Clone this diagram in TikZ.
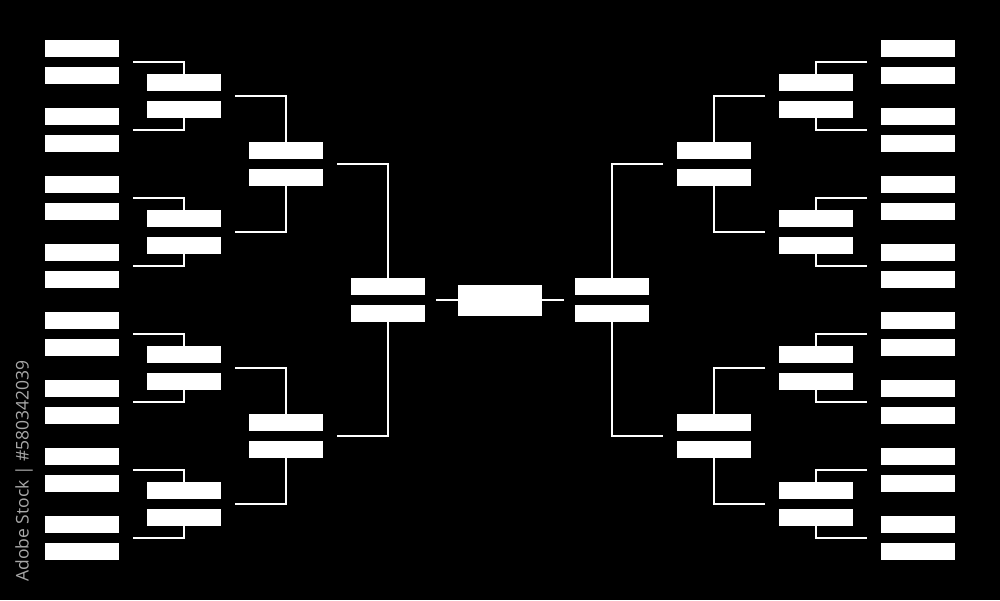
\documentclass[tikz,border=0pt]{standalone}
\usepackage{fontspec}
\newfontfamily\wmfont{Open Sans}
\definecolor{wmgray}{HTML}{A8A8A8}
\begin{document}
\begin{tikzpicture}[x=1pt,y=-1pt,
  bar/.style={fill=white,draw=none,minimum width=74pt,minimum height=17pt,inner sep=0pt},
  finalbox/.style={fill=white,draw=none,minimum width=84pt,minimum height=31pt,inner sep=0pt},
  link/.style={draw=white,line width=1.8pt},
  wmtext/.style={rotate=90,text=wmgray,inner sep=0pt,font=\wmfont\fontsize{17.5}{21}\selectfont}]
\fill[black] (0,0) rectangle (1000,600);
\useasboundingbox (0,0) rectangle (1000,600);
% bars
\foreach \k/\num in {0/8,1/4,2/2,3/1} {
  \pgfmathtruncatemacro\last{\num-1}
  \foreach \j in {0,...,\last} {
    \pgfmathsetmacro\cy{62+68*(2^\k-1)/2+68*(2^\k)*\j}
    \pgfmathsetmacro\lx{82+102*\k}
    \pgfmathsetmacro\rx{918-102*\k}
    \coordinate (L\k-\j) at (\lx,\cy);
    \coordinate (R\k-\j) at (\rx,\cy);
    \node[bar] (L\k-\j-t) at (\lx,\cy-13.5) {};
    \node[bar] (L\k-\j-b) at (\lx,\cy+13.5) {};
    \node[bar] (R\k-\j-t) at (\rx,\cy-13.5) {};
    \node[bar] (R\k-\j-b) at (\rx,\cy+13.5) {};
  }
}
% connectors
\foreach \k/\num in {1/4,2/2,3/1} {
  \pgfmathtruncatemacro\last{\num-1}
  \pgfmathtruncatemacro\km{\k-1}
  \foreach \j in {0,...,\last} {
    \pgfmathtruncatemacro\ja{2*\j}
    \pgfmathtruncatemacro\jb{2*\j+1}
    \draw[link] ([xshift=51pt]L\km-\ja) -| (L\k-\j-t.north);
    \draw[link] (L\k-\j-b.south) |- ([xshift=51pt]L\km-\jb);
    \draw[link] ([xshift=-51pt]R\km-\ja) -| (R\k-\j-t.north);
    \draw[link] (R\k-\j-b.south) |- ([xshift=-51pt]R\km-\jb);
  }
}
% final
\node[finalbox] (F) at (500,300) {};
\draw[link] ([xshift=48pt]L3-0) -- (F.west);
\draw[link] ([xshift=-48pt]R3-0) -- (F.east);
% watermark id
\node[wmtext] (wm) at (24,471) {Adobe Stock | \#580342039};
\end{tikzpicture}
\end{document}
